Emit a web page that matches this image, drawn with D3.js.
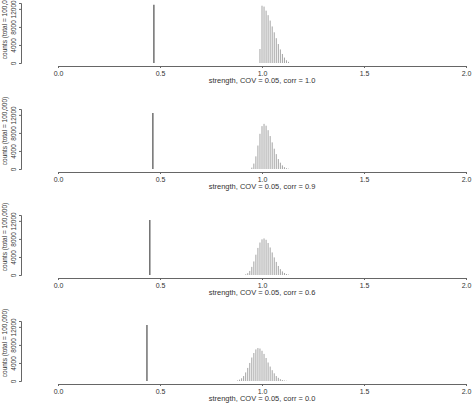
<!DOCTYPE html>
<html lang="en">
<head>
<meta charset="UTF-8" />
<script src="https://d3js.org/d3.v7.min.js"></script>
<style>
  body { margin: 0; background: #fff; }
  text { font-family: "Liberation Sans", Arial, sans-serif; fill: #333; }
</style>
</head>
<body>
<svg id="chart" width="474" height="404"></svg>
<script>
// panel titles (corr values)
const corrLabels = ["1.0", "0.9", "0.6", "0.0"];
// location and height of the single spike per panel
const spikeX = [0.47, 0.465, 0.45, 0.436];
const spikeCount = [12900, 12400, 12200, 12400];
// histogram bins (width 0.01): first bin start and counts
const binStart = [0.99, 0.95, 0.92, 0.88];
const counts1 = [3100, 12700, 12500, 11600, 10600, 9400, 8100, 6800, 5500, 4200, 3000, 2000, 1200, 600, 250];
const counts2 = [300, 1200, 2800, 5200, 7800, 9500, 10000, 9600, 8600, 7300, 5900, 4500, 3300, 2200, 1400, 800, 400, 180, 60];
const counts3 = [150, 400, 900, 1800, 3000, 4500, 6000, 7200, 7900, 8100, 7800, 7100, 6100, 5000, 3900, 2900, 2000, 1300, 800, 450, 220, 100];
const counts4 = [120, 300, 600, 1100, 1900, 2900, 4000, 5200, 6200, 7000, 7300, 7200, 6700, 6000, 5100, 4100, 3200, 2400, 1700, 1100, 700, 400, 220, 110, 50];
const allCounts = [counts1, counts2, counts3, counts4];
const yTicks = [0, 4000, 8000, 12000];
const xTicks = [0, 0.5, 1, 1.5, 2];

const svg = d3.select("#chart");
const x = d3.scaleLinear().domain([0, 2]).range([58, 466]);
const baselines = [63, 169, 275, 381];

allCounts.forEach((counts, p) => {
  const base = baselines[p];
  const y = d3.scaleLinear().domain([0, 13300]).range([base, base - 60]);
  const g = svg.append("g");

  // histogram bars
  g.selectAll("line.bar").data(counts).join("line")
    .attr("class", "bar")
    .attr("x1", (d, i) => x(binStart[p] + i * 0.01))
    .attr("x2", (d, i) => x(binStart[p] + i * 0.01))
    .attr("y1", y(0)).attr("y2", d => y(d))
    .attr("stroke", "#999").attr("stroke-width", 0.9);

  // spike
  g.append("line")
    .attr("x1", x(spikeX[p])).attr("x2", x(spikeX[p]))
    .attr("y1", y(0)).attr("y2", y(spikeCount[p]))
    .attr("stroke", "#666").attr("stroke-width", 1.4);

  // x axis
  const xa = g.append("g").attr("transform", `translate(0,${base + 3})`)
    .call(d3.axisBottom(x).tickValues(xTicks).tickFormat(d3.format(".1f")).tickSize(2));
  xa.select(".domain").attr("stroke", "#666");
  xa.selectAll(".tick line").attr("stroke", "#666");
  xa.selectAll("text").attr("font-size", 7).attr("fill", "#333");

  g.append("text")
    .attr("x", x(1)).attr("y", base + 20)
    .attr("text-anchor", "middle").attr("font-size", 7.5)
    .text(`strength, COV = 0.05, corr = ${corrLabels[p]}`);

  // y axis
  const ya = g.append("g").attr("transform", "translate(21,0)")
    .call(d3.axisLeft(y).tickValues(yTicks).tickFormat(d3.format("d")).tickSize(2));
  ya.select(".domain").attr("stroke", "#666");
  ya.selectAll(".tick line").attr("stroke", "#666");
  ya.selectAll("text").attr("font-size", 6.5).attr("fill", "#333")
    .attr("text-anchor", "middle")
    .attr("x", 0).attr("y", 0).attr("dy", 0)
    .attr("transform", "translate(-5,0) rotate(-90)");

  g.append("text")
    .attr("transform", `translate(7,${base - 38}) rotate(-90)`)
    .attr("text-anchor", "middle").attr("font-size", 6.5)
    .text("counts (total = 100,000)");
});
</script>
</body>
</html>
